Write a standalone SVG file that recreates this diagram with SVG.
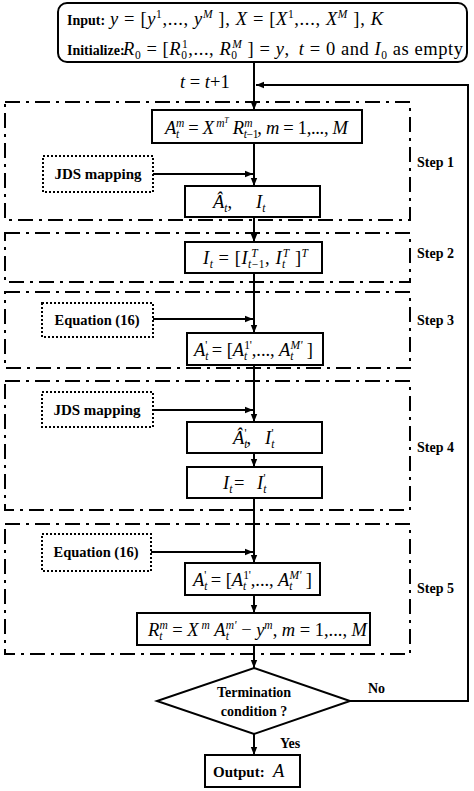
<svg xmlns="http://www.w3.org/2000/svg" width="474" height="791" viewBox="0 0 474 791">
<defs>
<marker id="ah" viewBox="0 0 10 10" refX="10" refY="5" markerWidth="8" markerHeight="8" markerUnits="userSpaceOnUse" orient="auto"><path d="M0,1 L10,5 L0,9 Z" fill="#000"/></marker>
</defs>
<style>
.m{font-family:"Liberation Serif","Times New Roman",serif;font-size:18.5px;fill:#000}
.i{font-style:italic}
.s{font-size:11.5px}
.ss{font-size:8px}
.b{font-family:"Liberation Serif","Times New Roman",serif;font-weight:bold;font-size:14px;fill:#000}
.box{fill:#fff;stroke:#000;stroke-width:2}
.dot{fill:#fff;stroke:#000;stroke-width:2;stroke-dasharray:2 2}
.step{fill:none;stroke:#000;stroke-width:2;stroke-dasharray:15 6 3 6}
.ca{fill:none;stroke:#000;stroke-width:2;marker-end:url(#ah)}
</style>
<rect width="474" height="791" fill="#fff"/>
<g id="steps">
<rect class="step" x="5" y="102" width="405" height="118"/>
<rect class="step" x="5" y="233" width="405" height="49"/>
<rect class="step" x="5" y="292" width="405" height="76"/>
<rect class="step" x="5" y="381" width="405" height="129"/>
<rect class="step" x="5" y="524" width="405" height="130"/>
<text class="b" x="417" y="167">Step 1</text>
<text class="b" x="417" y="258">Step 2</text>
<text class="b" x="417" y="325">Step 3</text>
<text class="b" x="417" y="452">Step 4</text>
<text class="b" x="417" y="593">Step 5</text>
</g>
<g id="connectors">
<path class="ca" d="M254,62 V110"/>
<path class="ca" d="M350,701 H468 V85 H256"/>
<path class="ca" d="M254,143 V186"/>
<path class="ca" d="M153,174 H253"/>
<path class="ca" d="M254,217 V242"/>
<path class="ca" d="M254,273 V333"/>
<path class="ca" d="M153,319 H253"/>
<path class="ca" d="M254,365 V422"/>
<path class="ca" d="M153,410 H253"/>
<path class="ca" d="M254,453 V467"/>
<path class="ca" d="M254,498 V563"/>
<path class="ca" d="M151,552 H253"/>
<path class="ca" d="M254,595 V613"/>
<path class="ca" d="M254,645 V668"/>
<path class="ca" d="M254,734 V755"/>
<text class="m" x="180" y="88"><tspan class="i">t</tspan> = <tspan class="i">t</tspan>+1</text>
<text class="b" x="368" y="693">No</text>
<text class="b" x="280" y="748">Yes</text>
</g>
<g id="input">
<rect class="box" x="58" y="3" width="409" height="59" rx="9"/>
<text class="b" x="67" y="25">Input:</text>
<text class="m" x="110" y="25" textLength="273"><tspan class="i">y</tspan> = [<tspan class="i">y</tspan><tspan class="s" baseline-shift="7">1</tspan>,..., <tspan class="i">y</tspan><tspan class="s i" baseline-shift="7">M</tspan> ], <tspan class="i">X</tspan> = [<tspan class="i">X</tspan><tspan class="s" baseline-shift="7">1</tspan>,..., <tspan class="i">X</tspan><tspan class="s i" baseline-shift="7">M</tspan> ], <tspan class="i">K</tspan></text>
<text class="b" x="67" y="55">Initialize:</text>
<text class="m" x="123" y="55" textLength="340"><tspan class="i">R</tspan><tspan class="s" baseline-shift="-4">0</tspan> = [<tspan class="i">R</tspan><tspan class="s" baseline-shift="-4">0</tspan><tspan class="s" baseline-shift="7" dx="-5.5">1</tspan>,..., <tspan class="i">R</tspan><tspan class="s" baseline-shift="-4">0</tspan><tspan class="s i" baseline-shift="7" dx="-5.5">M</tspan> ] = <tspan class="i">y</tspan>, <tspan class="i" dx="4">t</tspan> = 0 and <tspan class="i">I</tspan><tspan class="s" baseline-shift="-4">0</tspan> as empty</text>
</g>
<g id="n1">
<rect class="box" x="152" y="110" width="210" height="33"/>
<text class="m" x="165" y="134" textLength="183"><tspan class="i">A</tspan><tspan class="s i" baseline-shift="-4">t</tspan><tspan class="s i" baseline-shift="7" dx="-3">m</tspan> = <tspan class="i">X</tspan><tspan class="s i" baseline-shift="7"> m</tspan><tspan class="ss i" baseline-shift="11">T</tspan> <tspan class="i">R</tspan><tspan class="s i" baseline-shift="-4">t</tspan><tspan class="s" baseline-shift="-4">−1</tspan><tspan class="s i" baseline-shift="7" dx="-14">m</tspan><tspan dx="5">, </tspan><tspan class="i">m</tspan> = 1,..., <tspan class="i">M</tspan></text>
</g>
<g id="jds1">
<rect class="dot" x="43" y="156" width="110" height="36"/>
<text class="b" x="98" y="179" text-anchor="middle" style="font-size:15px">JDS mapping</text>
</g>
<g id="n2">
<rect class="box" x="185" y="186" width="135" height="31"/>
<text class="m" x="213" y="208"><tspan class="i">Â</tspan><tspan class="s i" baseline-shift="-4">t</tspan>,<tspan class="i" x="256">I</tspan><tspan class="s i" baseline-shift="-4">t</tspan></text>
</g>
<g id="n3">
<rect class="box" x="185" y="242" width="137" height="31"/>
<text class="m" x="203" y="264" textLength="105"><tspan class="i">I</tspan><tspan class="s i" baseline-shift="-4">t</tspan> = [<tspan class="i">I</tspan><tspan class="s i" baseline-shift="-4">t</tspan><tspan class="s" baseline-shift="-4">−1</tspan><tspan class="s i" baseline-shift="7" dx="-14">T</tspan><tspan dx="7">, </tspan><tspan class="i">I</tspan><tspan class="s i" baseline-shift="-4">t</tspan><tspan class="s i" baseline-shift="7" dx="-3">T</tspan> ]<tspan class="s i" baseline-shift="7">T</tspan></text>
</g>
<g id="eq1">
<rect class="dot" x="42" y="303" width="111" height="34"/>
<text class="b" x="97" y="325" text-anchor="middle" style="font-size:14.5px">Equation (16)</text>
</g>
<g id="n4">
<rect class="box" x="187" y="333" width="136" height="32"/>
<text class="m" x="194" y="356" textLength="119"><tspan class="i">A</tspan><tspan class="s i" baseline-shift="-4">t</tspan><tspan class="s" baseline-shift="7" dx="-3">'</tspan> = [<tspan class="i">A</tspan><tspan class="s i" baseline-shift="-4">t</tspan><tspan class="s" baseline-shift="7" dx="-3">1'</tspan>,..., <tspan class="i">A</tspan><tspan class="s i" baseline-shift="-4">t</tspan><tspan class="s i" baseline-shift="7" dx="-3">M'</tspan> ]</text>
</g>
<g id="jds2">
<rect class="dot" x="42" y="392" width="111" height="35"/>
<text class="b" x="97" y="415" text-anchor="middle" style="font-size:15px">JDS mapping</text>
</g>
<g id="n5">
<rect class="box" x="187" y="422" width="135" height="31"/>
<text class="m" x="233" y="444"><tspan class="i">Â</tspan><tspan class="s i" baseline-shift="-4">t</tspan><tspan class="s" baseline-shift="7" dx="-3">'</tspan>,<tspan class="i" x="265">I</tspan><tspan class="s i" baseline-shift="-4">t</tspan><tspan class="s" baseline-shift="7" dx="-3">'</tspan></text>
</g>
<g id="n6">
<rect class="box" x="187" y="467" width="135" height="31"/>
<text class="m" x="223" y="489"><tspan class="i">I</tspan><tspan class="s i" baseline-shift="-4">t</tspan><tspan x="234">=</tspan><tspan class="i" x="257">I</tspan><tspan class="s i" baseline-shift="-4">t</tspan><tspan class="s" baseline-shift="7" dx="-3">'</tspan></text>
</g>
<g id="eq2">
<rect class="dot" x="42" y="534" width="109" height="37"/>
<text class="b" x="96" y="557" text-anchor="middle" style="font-size:14.5px">Equation (16)</text>
</g>
<g id="n7">
<rect class="box" x="185" y="563" width="135" height="32"/>
<text class="m" x="193" y="586" textLength="119"><tspan class="i">A</tspan><tspan class="s i" baseline-shift="-4">t</tspan><tspan class="s" baseline-shift="7" dx="-3">'</tspan> = [<tspan class="i">A</tspan><tspan class="s i" baseline-shift="-4">t</tspan><tspan class="s" baseline-shift="7" dx="-3">1'</tspan>,..., <tspan class="i">A</tspan><tspan class="s i" baseline-shift="-4">t</tspan><tspan class="s i" baseline-shift="7" dx="-3">M'</tspan> ]</text>
</g>
<g id="n8">
<rect class="box" x="137" y="613" width="233" height="32"/>
<text class="m" x="148" y="636" textLength="219"><tspan class="i">R</tspan><tspan class="s i" baseline-shift="-4">t</tspan><tspan class="s i" baseline-shift="7" dx="-3">m</tspan> = <tspan class="i">X</tspan><tspan class="s i" baseline-shift="7"> m</tspan> <tspan class="i">A</tspan><tspan class="s i" baseline-shift="-4">t</tspan><tspan class="s i" baseline-shift="7" dx="-3">m'</tspan> − <tspan class="i">y</tspan><tspan class="s i" baseline-shift="7">m</tspan>, <tspan class="i">m</tspan> = 1,..., <tspan class="i">M</tspan></text>
</g>
<g id="cond">
<polygon class="box" points="254,668 350,701 254,734 157,701"/>
<text class="b" x="254" y="697" text-anchor="middle">Termination</text>
<text class="b" x="254" y="716" text-anchor="middle">condition ?</text>
</g>
<g id="output">
<rect class="box" x="205" y="755" width="95" height="32"/>
<text class="b" x="213" y="777" style="font-size:15px">Output:</text>
<text class="m i" x="273" y="777">A</text>
</g>
</svg>
